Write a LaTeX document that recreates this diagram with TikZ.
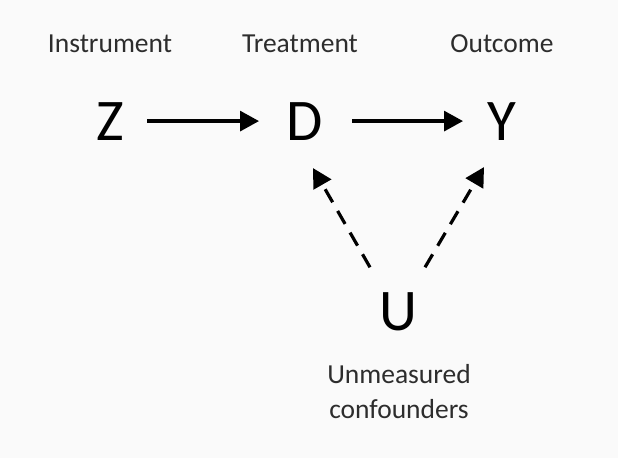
\documentclass[tikz,border=0pt]{standalone}
\usepackage{fontspec}
\setmainfont{Carlito}
\usetikzlibrary{arrows.meta}
\definecolor{bgc}{RGB}{250,250,250}
\definecolor{labc}{RGB}{45,45,45}
\tikzset{
  letter/.style={font=\fontsize{59}{59}\selectfont, inner sep=0pt, anchor=base, text=black},
  lab/.style={font=\fontsize{27.5}{27.5}\selectfont, inner sep=0pt, anchor=base, text=labc},
  conn/.style={line width=3.2pt, -{Triangle[length=19pt,width=20pt]}},
  dconn/.style={conn, dash pattern=on 15pt off 10pt}
}
\begin{document}
\begin{tikzpicture}[x=1pt,y=-1pt]
\fill[bgc] (0,0) rectangle (618,458);
\useasboundingbox (0,0) rectangle (618,458);
\node[lab] (li) at (110,52) {Instrument};
\node[lab] (lt) at (300,52) {Treatment};
\node[lab] (lo) at (502,52) {Outcome};
\node[letter] (Z) at (110,140) {Z};
\node[letter] (D) at (305,140) {D};
\node[letter] (Y) at (502,140) {Y};
\node[letter] (U) at (398,330) {U};
\node[lab] (lu1) at (399,383) {Unmeasured};
\node[lab] (lu2) at (399,418) {confounders};
\draw[conn, shorten <=37pt, shorten >=46pt] (Z.center) -- (D.center);
\draw[conn, shorten <=47pt, shorten >=39pt] (D.center) -- (Y.center);
\draw[dconn] ([shift={(-28,-44)}]U.center) -- ([shift={(8,47)}]D.center);
\draw[dconn] ([shift={(27,-44)}]U.center) -- ([shift={(-18,46)}]Y.center);
\end{tikzpicture}
\end{document}
